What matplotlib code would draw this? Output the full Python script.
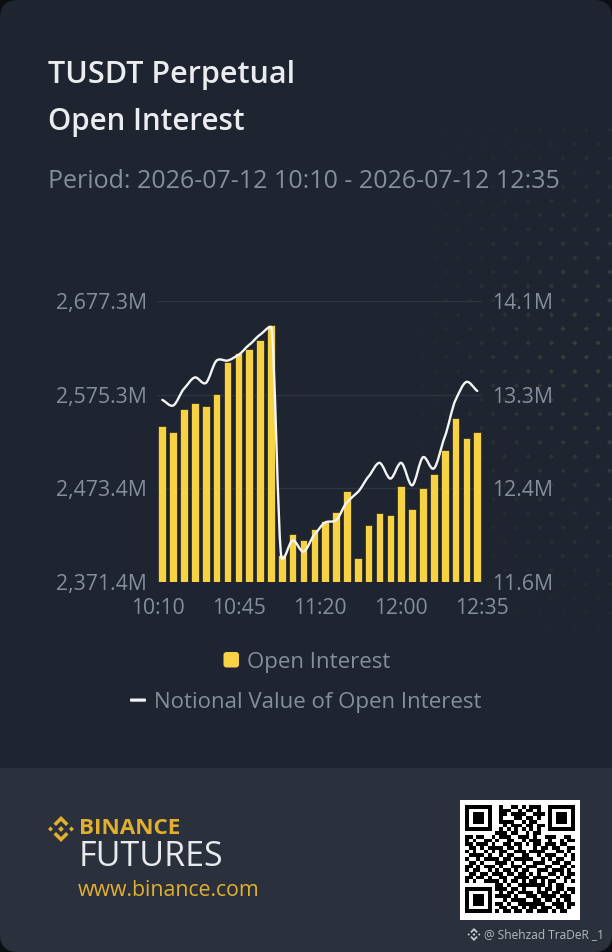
import numpy as np
import matplotlib
matplotlib.use("Agg")
import matplotlib.pyplot as plt
from matplotlib.patches import FancyBboxPatch, Polygon, Rectangle
from matplotlib.path import Path
from matplotlib.patches import PathPatch

plt.rcParams['font.family'] = ['Open Sans', 'DejaVu Sans']

# ---------- data ----------
open_interest = [2541.6, 2534.7, 2559.4, 2565.9, 2563.4, 2576.1, 2611.3, 2620.3, 2625.0, 2634.8,
                 2651.2, 2400.8, 2423.3, 2417.1, 2429.1, 2438.2, 2448.0, 2470.1, 2397.2, 2433.5,
                 2446.2, 2444.3, 2475.5, 2450.5, 2474.1, 2489.0, 2515.1, 2549.6, 2527.8, 2534.3]
notional_value = [13.22, 13.17, 13.32, 13.42, 13.37, 13.57, 13.57, 13.62, 13.71, 13.80,
                  13.87, 11.81, 11.97, 11.87, 12.02, 12.13, 12.15, 12.31, 12.40, 12.54,
                  12.66, 12.52, 12.66, 12.46, 12.71, 12.61, 12.89, 13.22, 13.38, 13.30]
x_tick_labels = ['10:10', '10:45', '11:20', '12:00', '12:35']
left_ticks = [2371.4, 2473.4, 2575.3, 2677.3]
left_tick_labels = ['2,371.4M', '2,473.4M', '2,575.3M', '2,677.3M']
right_ticks = [11.6, 12.4, 13.3, 14.1]
right_tick_labels = ['11.6M', '12.4M', '13.3M', '14.1M']

qr_rows = [
 "1111111001001101011100"+"1111111",
 "1000001001110010110100"+"1000001",
 "1011101001101111001110"+"1011101",
 "1011101001000110110100"+"1011101",
 "1011101001111001011000"+"1011101",
 "1000001000101110110110"+"1000001",
 "1111111001010101010100"+"1111111",
 "0000000011101100101100"+"0000000",
 "11011001011100111010011100110",
 "10100110100110010111001001011",
 "11011101001101101011011101100",
 "01101011110110100010110110011",
 "10100101011001110111100011010",
 "01111010010110011001011100101",
 "10010111101101111100101011001",
 "01101000111010010011100110110",
 "11010111010011101110011001101",
 "10110010101101011001110111010",
 "01101101110110110101001101011",
 "11011010011001111011110010110",
 "10100111101011010110101100101",
 "00000000110100111111101011000",
 "1111111011101101000101"+"1011011",
 "1000001001011011110111"+"0110101",
 "1011101011110100111011"+"1101110",
 "1011101000101111001101"+"1010110",
 "1011101011010011111110"+"0111011",
 "1000001001101101011011"+"1011010",
 "1111111010110110110111"+"0101100",
]

# ---------- colours ----------
PANEL = '#1e2530'
FOOT = '#2a313c'
GOLD = '#e2b02e'
GREY = '#858e9b'
BAR = '#f6d244'

W, H = 612, 952
fig = plt.figure(figsize=(W/100, H/100), dpi=100, facecolor='#0b0e12')

# pixel-space background layer
bg = fig.add_axes([0, 0, 1, 1], zorder=0)
bg.set_xlim(0, W); bg.set_ylim(H, 0); bg.axis('off')
panel = FancyBboxPatch((0, 0), W, H, boxstyle='round,pad=0,rounding_size=18',
                       fc=PANEL, ec='none')
bg.add_patch(panel)
foot = Rectangle((0, 768), W, H-768, fc=FOOT, ec='none')
bg.add_patch(foot)
foot.set_clip_path(panel)

# decorative dot texture
dx, dy = 23.3, 14.2
dot_x, dot_y, dot_a = [], [], []
for r, yy in enumerate(np.arange(130, 640, dy)):
    for xx in np.arange(400 + (r % 2)*dx/2, W+5, dx):
        a = max(0, (xx-400)/212) * (1 - abs(yy-360)/300)
        if a > 0.03:
            dot_x.append(xx); dot_y.append(yy); dot_a.append(min(0.16, a*0.2))
cols = np.zeros((len(dot_x), 4)); cols[:, :3] = (0.85, 0.75, 0.45); cols[:, 3] = dot_a
bg.scatter(dot_x, dot_y, s=7, c=cols, linewidths=0, marker='D')

# headings
bg.text(48, 75, 'TUSDT Perpetual', color='#eaecef', fontsize=22, fontweight='semibold', va='center')
bg.text(48, 122, 'Open Interest', color='#eaecef', fontsize=21.3, fontweight='semibold', va='center')
bg.text(48, 182, 'Period: 2026-07-12 10:10 - 2026-07-12 12:35', color=GREY, fontsize=18, va='center')

# ---------- chart ----------
ax_l, ax_r, ax_t, ax_b = 157.5, 482, 301, 582
ax = fig.add_axes([ax_l/W, 1-ax_b/H, (ax_r-ax_l)/W, (ax_b-ax_t)/H], zorder=2)
ax.patch.set_alpha(0)
n = len(open_interest)
idx = np.arange(n)
step = 10.862
xlim = ((ax_l-162.3)/step, (ax_r-162.3)/step)
ax.bar(idx, open_interest, width=0.7, color=BAR, edgecolor='#23241f', linewidth=0.5,
       label='Open Interest', zorder=2)
ax.set_xlim(*xlim)
ax.set_ylim(left_ticks[0], left_ticks[-1])
ax.set_xticks(np.linspace(xlim[0], xlim[1], len(x_tick_labels)))
ax.set_xticklabels(x_tick_labels)
ax.set_yticks(left_ticks)
ax.set_yticklabels(left_tick_labels)
ax.tick_params(axis='x', length=0, colors=GREY, labelsize=15.2, pad=11.5)
ax.tick_params(axis='y', length=0, colors=GREY, labelsize=15.3, pad=7.7)
ax.grid(axis='y', color='#2e3541', lw=1, zorder=0)
ax.grid(axis='x', visible=False)
for s in ax.spines.values():
    s.set_visible(False)

ax2 = ax.twinx()
ax2.patch.set_alpha(0)
ax2.set_ylim(right_ticks[0], right_ticks[-1])
ax2.set_yticks(np.linspace(right_ticks[0], right_ticks[-1], 4))
ax2.set_yticklabels(right_tick_labels)
ax2.tick_params(axis='y', length=0, colors=GREY, labelsize=15.3, pad=7)
for s in ax2.spines.values():
    s.set_visible(False)

# smooth line through the values (Bezier segments with softened tangents)
v = np.array(notional_value)
t = np.zeros(n)
t[1:-1] = (v[2:] - v[:-2]) / 2 * 0.8
t[0], t[-1] = (v[1]-v[0])*0.8, (v[-1]-v[-2])*0.8
# keep the curve tight around the sharp drop
t[10] = 0.0; t[11] *= 0.1
verts = [(idx[0], v[0])]; codes = [Path.MOVETO]
for i in range(n-1):
    verts += [(idx[i]+1/3, v[i]+t[i]/3), (idx[i+1]-1/3, v[i+1]-t[i+1]/3), (idx[i+1], v[i+1])]
    codes += [Path.CURVE4]*3
ax2.add_patch(PathPatch(Path(verts, codes), fc='none', ec='#f4f5f7', lw=1.7, zorder=5,
                        capstyle='round', joinstyle='round', label='Notional Value of Open Interest'))

# legend
bg.add_patch(FancyBboxPatch((223.5, 652), 15.5, 15.5, boxstyle='round,pad=0,rounding_size=3',
                            fc=BAR, ec='none'))
bg.text(247, 662.5, 'Open Interest', color=GREY, fontsize=16, va='center')
bg.add_patch(FancyBboxPatch((130, 698.5), 16, 3.2, boxstyle='round,pad=0,rounding_size=1',
                            fc='#f4f5f7', ec='none'))
bg.text(154, 702.5, 'Notional Value of Open Interest', color=GREY, fontsize=16, va='center')

# ---------- footer ----------
def logo(cx, cy, k, color):
    shapes = [
        [(0, -13), (7.5, -5.5), (5, -3), (0, -8), (-5, -3), (-7.5, -5.5)],
        [(0, 13), (7.5, 5.5), (5, 3), (0, 8), (-5, 3), (-7.5, 5.5)],
        [(0, -2.9), (2.9, 0), (0, 2.9), (-2.9, 0)],
        [(-10.5, -2.5), (-8, 0), (-10.5, 2.5), (-13, 0)],
        [(10.5, -2.5), (13, 0), (10.5, 2.5), (8, 0)],
    ]
    for p in shapes:
        bg.add_patch(Polygon([(cx+k*a, cy+k*b) for a, b in p], fc=color, ec='none'))

logo(61, 829, 1.0, GOLD)
bg.text(79, 829, 'BINANCE', color=GOLD, fontsize=16.2, fontweight='bold', va='center')
bg.text(79, 857, 'FUTURES', color='#e8eaee', fontsize=24.5, va='center')
bg.text(78, 890.5, 'www.binance.com', color=GOLD, fontsize=15.3, va='center')

bg.add_patch(Rectangle((460, 800), 120, 120, fc='white', ec='none'))
qr = np.array([[int(c) for c in r.ljust(29, '0')[:29]] for r in qr_rows])
bg.imshow(1-qr, cmap='gray', vmin=0, vmax=1, extent=(465, 575, 913, 805),
          interpolation='nearest', aspect='auto', zorder=3)
bg.set_xlim(0, W); bg.set_ylim(H, 0)

logo(474, 934.5, 0.5, '#c9ccd2')
bg.text(484, 935, '@ Shehzad TraDeR _1', color='#b4b8c0', fontsize=8.6, va='center')

fig.savefig('out.png', dpi=100, facecolor=fig.get_facecolor())
